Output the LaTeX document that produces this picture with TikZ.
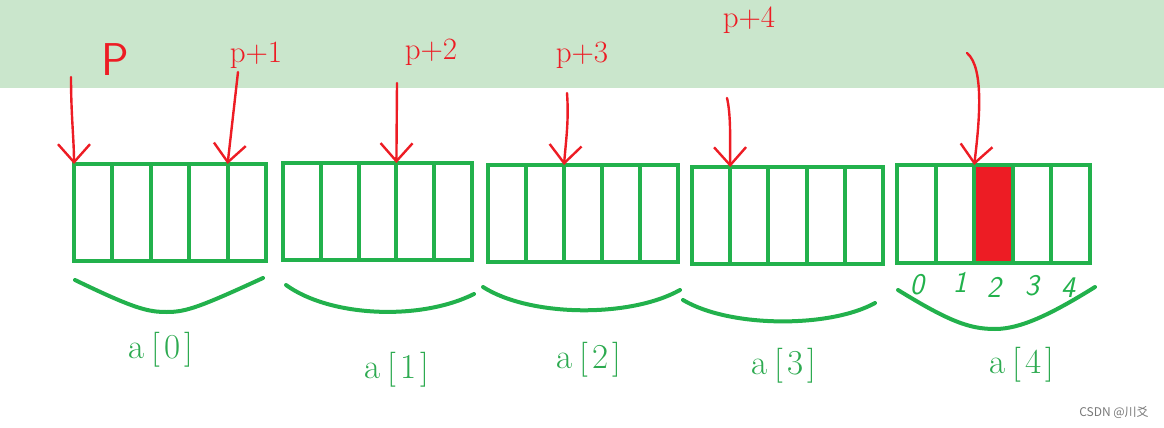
\documentclass[tikz,border=0pt]{standalone}
\usepackage{fontspec}
\newfontfamily\cjkfont{Noto Sans CJK SC}
\usetikzlibrary{arrows.meta,calc,backgrounds}
\definecolor{pgreen}{RGB}{34,177,76}
\definecolor{pred}{RGB}{237,28,36}
\definecolor{bandgreen}{RGB}{202,230,204}
\definecolor{lblgreen}{RGB}{45,170,80}
\definecolor{wmgray}{RGB}{120,120,120}
\newcommand\arrlbl[1]{a\kern7pt[\kern4pt#1\kern4pt]}
\begin{document}
\begin{tikzpicture}[x=1pt,y=-1pt,
  arrbox/.style={draw=pgreen,line width=4pt,inner sep=0pt,outer sep=0pt,anchor=north west},
  cellline/.style={draw=pgreen,line width=4pt},
  brace/.style={draw=pgreen,line width=4pt,line cap=round},
  ptr/.style={draw=pred,line width=2.4pt,line cap=round,line join=round,
    -{Straight Barb[length=18pt,width=32pt,line width=2.4pt]}},
  plbl/.style={text=pred,inner sep=0pt,font=\fontsize{31}{31}\selectfont},
  albl/.style={text=lblgreen,inner sep=0pt,font=\fontsize{35}{35}\selectfont},
  dlbl/.style={text=pgreen,inner sep=0pt,font=\sffamily\itshape\fontsize{30}{30}\selectfont}]
\useasboundingbox (0,0) rectangle (1164,428);
\fill[bandgreen] (0,0) rectangle (1164,88);

% arrays
\node[arrbox,minimum width=192pt,minimum height=97pt] (a0) at (74,164) {};
\node[arrbox,minimum width=189pt,minimum height=97pt] (a1) at (283,163) {};
\node[arrbox,minimum width=190pt,minimum height=97pt] (a2) at (488,165) {};
\node[arrbox,minimum width=191pt,minimum height=97pt] (a3) at (692,167) {};
\node[arrbox,minimum width=193pt,minimum height=98pt] (a4) at (897,165) {};
\begin{scope}[on background layer]
  \fill[pred] ($(a4.north west)!0.4!(a4.north east)$) rectangle ($(a4.south west)!0.6!(a4.south east)$);
\end{scope}
\foreach \n in {a0,a1,a2,a3,a4}{
  \foreach \i in {1,2,3,4}{
    \draw[cellline] ($(\n.north west)!\i/5!(\n.north east)$) -- ($(\n.south west)!\i/5!(\n.south east)$);
  }
}

% pointer labels
\node[text=pred,inner sep=0pt,font=\sffamily\fontsize{46}{46}\selectfont] (lp0) at (115,60) {P};
\node[plbl] (lp1) at (256,55) {p+1};
\node[plbl] (lp2) at (431,52) {p+2};
\node[plbl] (lp3) at (582,55) {p+3};
\node[plbl] (lp4) at (749,20) {p+4};

% arrows
\coordinate (s0) at (71,77);
\coordinate (s1) at (238,72);
\coordinate (s2) at (397,83);
\coordinate (s3) at (567,93);
\coordinate (s4) at (727,98);
\coordinate (s5) at (967,53);
\draw[ptr] (s0) .. controls (71,115) and (74,140) .. (a0.north west);
\draw[ptr] (s1) -- ($(a0.north west)!0.8!(a0.north east)$);
\draw[ptr] (s2) -- ($(a1.north west)!0.6!(a1.north east)$);
\draw[ptr] (s3) .. controls (569,120) and (566,140) .. ($(a2.north west)!0.4!(a2.north east)$);
\draw[ptr] (s4) .. controls (731,115) and (730,140) .. ($(a3.north west)!0.2!(a3.north east)$);
\draw[ptr] (s5) .. controls (985,68) and (979,125) .. ($(a4.north west)!0.4!(a4.north east)$);

% braces
\draw[brace] (75,280) .. controls (135,309) and (148,312) .. (167,312) .. controls (186,312) and (200,307) .. (263,278);
\draw[brace] (286,285) .. controls (330,317) and (420,321) .. (474,294);
\draw[brace] (483,287) .. controls (530,317) and (630,318) .. (680,290);
\draw[brace] (683,300) .. controls (730,328) and (830,328) .. (875,303);
\draw[brace] (898,290) .. controls (950,322) and (970,329) .. (995,329) .. controls (1020,329) and (1050,315) .. (1095,287);

% brace labels
\node[albl] (l0) at (161,350) {\arrlbl{0}};
\node[albl] (l1) at (397,370) {\arrlbl{1}};
\node[albl] (l2) at (589,360) {\arrlbl{2}};
\node[albl] (l3) at (784,366) {\arrlbl{3}};
\node[albl] (l4) at (1022,365) {\arrlbl{4}};

% handwritten indices
\node[dlbl] (d0) at (917,285) {0};
\node[dlbl] (d1) at (960,282) {1};
\node[dlbl] (d2) at (994,287) {2};
\node[dlbl] (d3) at (1032,286) {3};
\node[dlbl] (d4) at (1068,288) {4};

% watermark
\node[text=wmgray,inner sep=0pt,font=\cjkfont\fontsize{12}{12}\selectfont] (wm) at (1114,412) {CSDN @川爻};
\end{tikzpicture}
\end{document}
